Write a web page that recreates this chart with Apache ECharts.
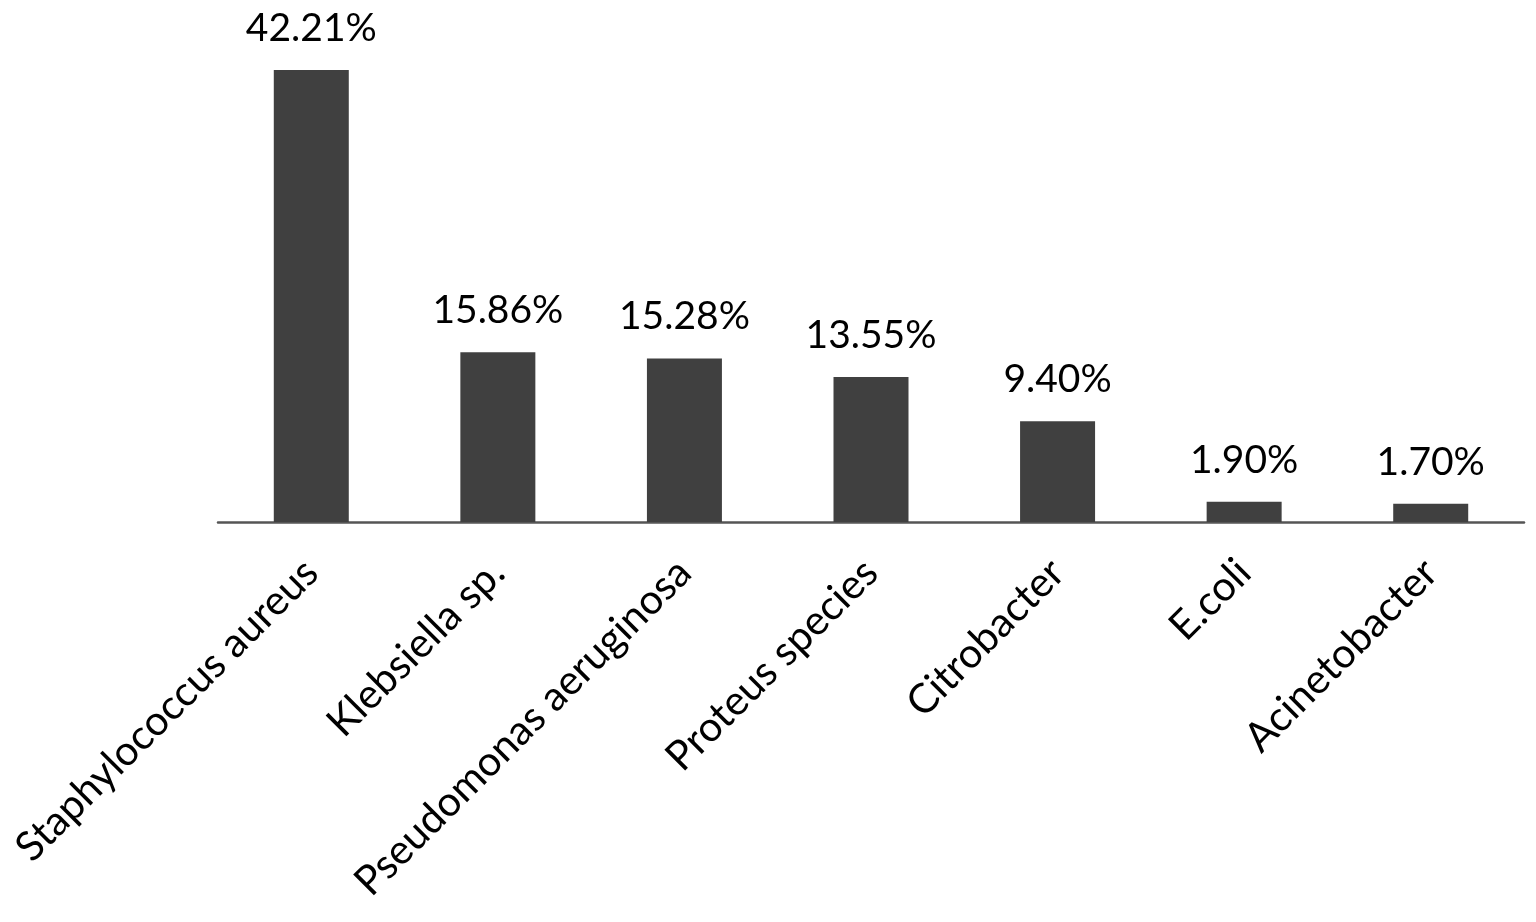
<!DOCTYPE html>
<html>
<head>
<meta charset="utf-8">
<script src="https://cdn.jsdelivr.net/npm/echarts@6/dist/echarts.min.js"></script>
<style>
  html, body { margin: 0; padding: 0; background: #fff; }
  #chart { width: 1536px; height: 922px; }
</style>
</head>
<body>
<div id="chart"></div>
<script>
// Isolated organisms and their share (%)
const categories = [
    'Staphylococcus aureus',
    'Klebsiella sp.',
    'Pseudomonas aeruginosa',
    'Proteus species',
    'Citrobacter',
    'E.coli',
    'Acinetobacter'
];
const percentages = [42.21, 15.86, 15.28, 13.55, 9.40, 1.90, 1.70];

const myChart = echarts.init(document.getElementById('chart'));

const option = {
    animation: false,
    grid: {
        left: 218,
        right: 12,
        top: 70,
        bottom: 400
    },
    xAxis: {
        type: 'category',
        data: categories,
        axisLine: {lineStyle: {color: '#555555', width: 2.5}},
        axisTick: {show: false},
        axisLabel: {
            interval: 0,
            rotate: 45,
            margin: 44,
            color: '#000',
            fontFamily: 'Lato',
            fontSize: 41
        }
    },
    yAxis: {
        type: 'value',
        min: 0,
        max: Math.max(...percentages),
        show: false,
        splitLine: {show: false}
    },
    series: [
        {
            type: 'bar',
            data: percentages,
            barWidth: 75,
            itemStyle: {color: '#404040'},
            label: {
                show: true,
                position: 'top',
                distance: 22,
                color: '#000',
                fontFamily: 'Lato',
                fontSize: 39,
                formatter: p => p.value.toFixed(2) + '%'
            }
        }
    ]
};

myChart.setOption(option);
</script>
</body>
</html>
